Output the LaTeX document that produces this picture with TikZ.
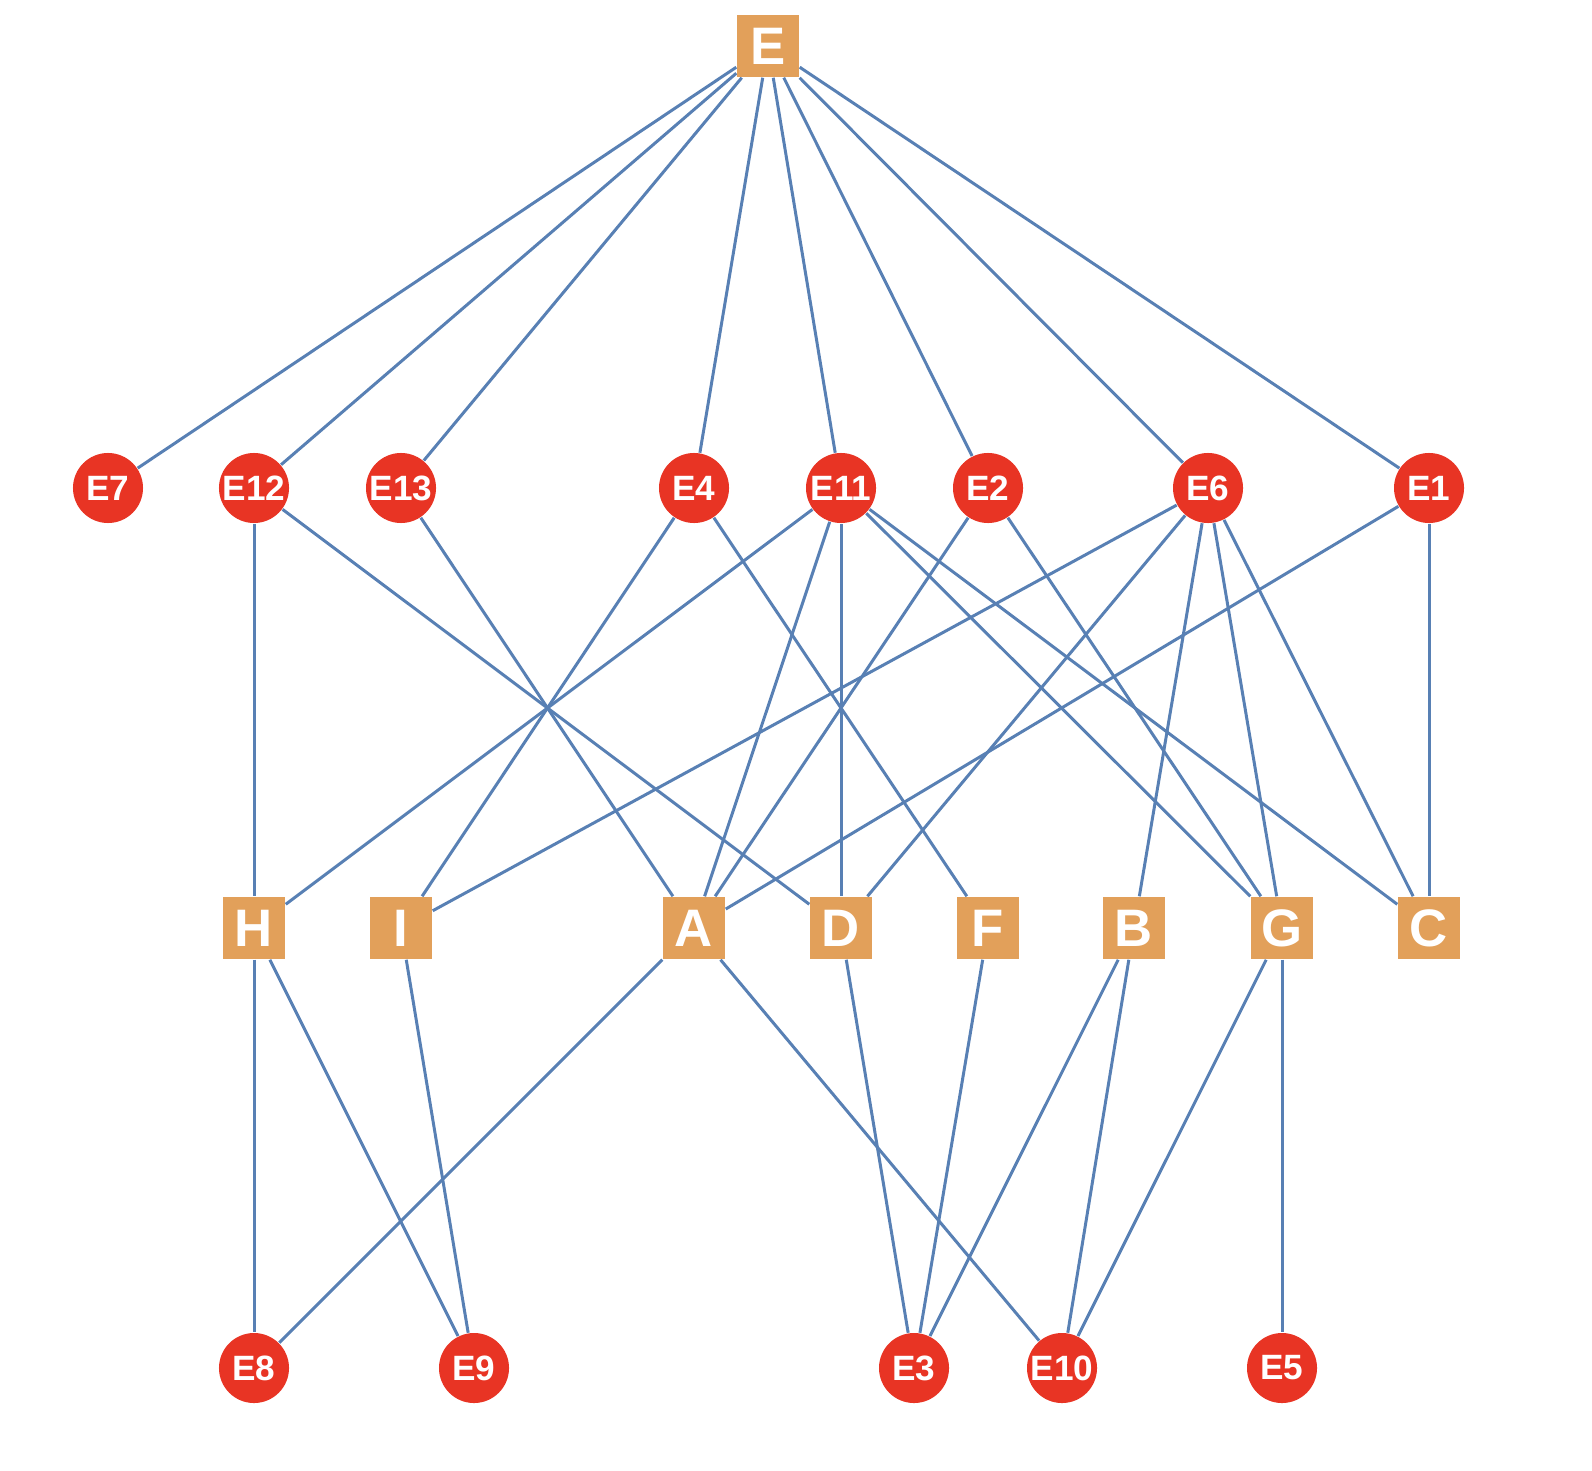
\documentclass[tikz,border=0pt]{standalone}
\usepackage{fontspec}
\setmainfont{Liberation Sans}
\usetikzlibrary{backgrounds}
\definecolor{edgeblue}{RGB}{88,128,180}
\definecolor{sqorange}{RGB}{226,160,90}
\definecolor{cred}{RGB}{232,52,36}
\begin{document}
\begin{tikzpicture}[x=0.01cm,y=-0.01cm,
  sq/.style={rectangle,fill=sqorange,minimum size=0.62cm,inner sep=0pt,text=white,font=\fontsize{15}{15}\selectfont\bfseries},
  cr/.style={circle,fill=cred,minimum size=0.7cm,inner sep=0pt,text=white,font=\fontsize{10}{10}\selectfont\bfseries},
  ed/.style={draw=edgeblue,line width=0.85pt}]
\useasboundingbox (0,0) rectangle (1592,1470);
\node[sq] (E) at (768,46) {E};
\foreach \n/\x in {E7/108,E12/254,E13/401,E4/694,E11/841,E2/988,E6/1208,E1/1429}
  \node[cr] (\n) at (\x,488) {\n};
\foreach \n/\x in {H/254,I/401,A/694,D/841,F/988,B/1134,G/1282,C/1429}
  \node[sq] (\n) at (\x,928) {\n};
\foreach \n/\x in {E8/254,E9/474,E3/914,E10/1062,E5/1282}
  \node[cr] (\n) at (\x,1368) {\n};
\begin{scope}[on background layer]
\foreach \a/\b in {E/E7,E/E12,E/E13,E/E4,E/E11,E/E2,E/E6,E/E1,
  E12/H,E12/D,E13/A,E4/I,E4/F,E11/H,E11/A,E11/D,E11/G,E11/C,E2/A,E2/G,
  E6/I,E6/D,E6/B,E6/G,E6/C,E1/A,E1/C,H/E8,H/E9,I/E9,A/E8,A/E10,
  D/E3,F/E3,B/E3,B/E10,G/E10,G/E5}
  \draw[ed] (\a) -- (\b);
\end{scope}
\end{tikzpicture}
\end{document}
